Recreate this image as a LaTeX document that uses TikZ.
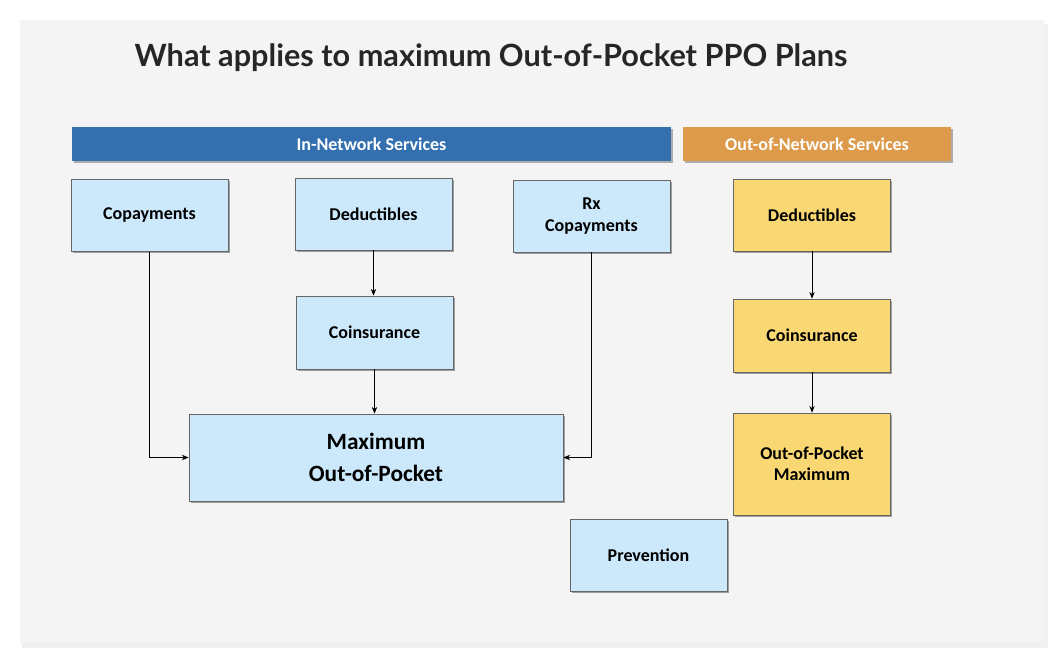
\documentclass[tikz,border=0pt]{standalone}
\usepackage{fontspec}
\setmainfont{Carlito}
\newfontfamily\titlefont{Lato}
\usetikzlibrary{shadows,arrows.meta}
\definecolor{cardbg}{HTML}{F4F4F4}
\definecolor{inblue}{HTML}{3470B0}
\definecolor{outorange}{HTML}{DD9A4A}
\definecolor{lightblue}{HTML}{CCE9FB}
\definecolor{lightyellow}{HTML}{F9D874}
\begin{document}
\begin{tikzpicture}[x=0.75pt,y=-0.75pt,
	box/.style={draw=gray!80!black,line width=0.6pt,fill=lightblue,minimum width=117.75pt,minimum height=54pt,
		align=center,font=\bfseries\fontsize{13.5}{16}\selectfont,text=black,
		drop shadow={shadow xshift=1.2pt,shadow yshift=-1.2pt,opacity=0.6,fill=black!60}},
	outbox/.style={box,fill=lightyellow},
	bar/.style={minimum height=25.5pt,text=white,font=\bfseries\fontsize{13.5}{16}\selectfont,
		drop shadow={shadow xshift=1.2pt,shadow yshift=-1.2pt,opacity=0.5,fill=black!60}},
	arr/.style={-{Stealth[length=5pt,width=4pt]},line width=0.5pt}]
	\useasboundingbox (0,0) rectangle (1064,662);
	\fill[white] (0,0) rectangle (1064,662);
	% card
	\fill[black!6] (22,24) rectangle (1048,648);
	\fill[cardbg] (20,20) rectangle (1044,642);
	\node[anchor=west,font=\titlefont\bfseries\fontsize{23}{28}\selectfont,text=black!85] (title) at (130,58) {What applies to maximum Out-of-Pocket PPO Plans};
	% header bars
	\node[bar,fill=inblue,minimum width=449.25pt] (innet) at (371.5,144) {In-Network Services};
	\node[bar,fill=outorange,minimum width=201pt] (outnet) at (817,144) {Out-of-Network Services};
	% in-network
	\node[box] (copay) at (149.5,215.5) {Copayments};
	\node[box] (deduct) at (373.5,214) {Deductibles};
	\node[box] (rxcopay) at (591.5,216) {Rx\\Copayments};
	\node[box,minimum height=54.75pt] (coins) at (374.5,332.5) {Coinsurance};
	\node[box,minimum width=280.5pt,minimum height=65.25pt,font=\bfseries\fontsize{17.5}{24}\selectfont] (maxoop) at (376,457.5) {Maximum\\Out-of-Pocket};
	\node[box] (prevent) at (648.5,555) {Prevention};
	% out-of-network
	\node[outbox] (odeduct) at (812,215) {Deductibles};
	\node[outbox,minimum height=54.75pt] (ocoins) at (812,335.5) {Coinsurance};
	\node[outbox,minimum height=76.5pt] (ooop) at (812,464) {Out-of-Pocket\\Maximum};
	% connectors
	\draw[arr] (copay.south) |- (maxoop.west);
	\draw[arr] (rxcopay.south) |- (maxoop.east);
	\draw[arr] (deduct.south) -- (coins.north -| deduct.south);
	\draw[arr] (coins.south) -- (maxoop.north -| coins.south);
	\draw[arr] (odeduct) -- (ocoins);
	\draw[arr] (ocoins) -- (ooop);
\end{tikzpicture}
\end{document}
